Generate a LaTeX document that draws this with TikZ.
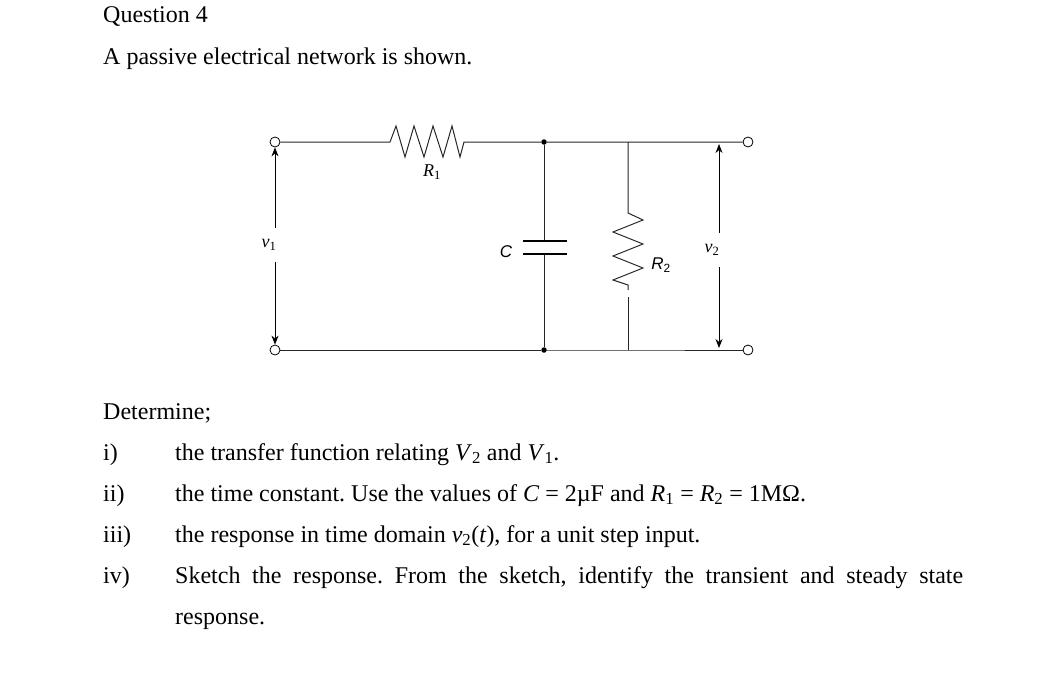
\documentclass[tikz,border=0pt]{standalone}
\usepackage{fontspec}
\setmainfont{Liberation Serif}
\newfontfamily\arialf{Liberation Sans}
\usetikzlibrary{arrows.meta}
\frenchspacing
\begin{document}
\begin{tikzpicture}[x=1pt,y=-1pt,
  wire/.style={line width=1pt,black!85},
  term/.style={circle,draw,fill=white,inner sep=0pt,minimum size=10pt,line width=0.8pt},
  jdot/.style={circle,fill=black,inner sep=0pt,minimum size=5.5pt},
  txt/.style={anchor=base west,inner sep=0pt,font=\fontsize{24}{28}\selectfont},
  arr/.style={line width=0.9pt,-{Stealth[length=9pt,width=7pt]}}]
\useasboundingbox (0,0) rectangle (1044,677);
% text
\node[txt] (q) at (103,23) {Question 4};
\node[txt] (p) at (103,64) {A passive electrical network is shown.};
\node[txt] (d) at (103,419) {Determine;};
\node[txt] (n1) at (103,460) {i)};
\node[txt] (t1) at (175,460) {the transfer function relating \textit{V}\textsubscript{2} and \textit{V}\textsubscript{1}.};
\node[txt] (n2) at (103,501) {ii)};
\node[txt] (t2) at (175,501) {the time constant. Use the values of \textit{C} = 2µF and \textit{R}\textsubscript{1} = \textit{R}\textsubscript{2} = 1MΩ.};
\node[txt] (n3) at (103,542) {iii)};
\node[txt] (t3) at (175,542) {the response in time domain \textit{v}\textsubscript{2}(\textit{t}), for a unit step input.};
\node[txt] (n4) at (103,583) {iv)};
\node[txt] (t4) at (175,583) {\makebox[788pt][s]{Sketch the response. From the sketch, identify the transient and steady state}};
\node[txt] (t5) at (175,624) {response.};
% circuit
\coordinate (r1a) at (378,142); \coordinate (r1b) at (475,142);
\coordinate (r2a) at (628,208); \coordinate (r2b) at (628,297);
\node[jdot] (jt) at (544,142) {};
\node[jdot] (jb) at (544,350) {};
\coordinate (r2t) at (628,142); \coordinate (r2bot) at (628,350);
\coordinate (ct) at (544,241); \coordinate (cb) at (544,254);
\node[term] (a) at (275,142) {};
\node[term] (b) at (275,350) {};
\node[term] (c) at (748,142) {};
\node[term] (e) at (748,350) {};
\draw[wire] (a) -- (r1a) -- (390,142) -- (396,126) -- (405,157) -- (414,126) -- (424,157) -- (433,126) -- (443,157) -- (452,126) -- (460,157) -- (464,142) -- (r1b) -- (jt) -- (r2t) -- (c);
\draw[wire] (b) -- (jb) -- (r2bot) -- (e);
\draw[wire] (jt) -- (ct); \draw[wire] (cb) -- (jb);
\draw[line width=1.8pt] (523,241) -- (567,241) (523,254) -- (567,254);
\draw[wire] (r2t) -- (r2a) -- (628,213) -- (643,220) -- (613,232) -- (643,244) -- (613,256) -- (643,268) -- (613,280) -- (628,285) -- (628,290);
\draw[wire] (r2b) -- (r2bot);
\node[font=\fontsize{18}{20}\selectfont\itshape] (lr1) at (432,172) {R\textsubscript{\upshape 1}};
\node[font=\arialf\fontsize{17}{20}\selectfont\itshape] (lc) at (506,252) {C};
\node[font=\arialf\fontsize{17}{20}\selectfont\itshape] (lr2) at (661,265) {R\textsubscript{\upshape 2}};
\node[font=\fontsize{18}{20}\selectfont\itshape] (lv1) at (269,245) {v\textsubscript{\upshape 1}};
\node[font=\fontsize{18}{20}\selectfont\itshape] (lv2) at (712,250) {v\textsubscript{\upshape 2}};
\draw[arr] (275,228) -- (a.south);
\draw[arr] (275,262) -- (b.north);
\draw[arr] (719,233) -- (719,144);
\draw[arr] (719,267) -- (719,348);
\end{tikzpicture}
\end{document}
